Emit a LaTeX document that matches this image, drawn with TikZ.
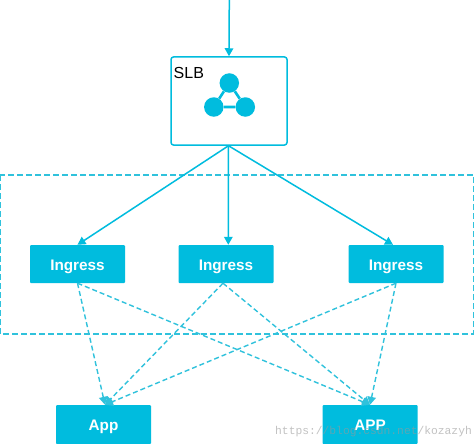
\documentclass[tikz,border=0pt]{standalone}
\usepackage{fontspec}
\setmainfont{Liberation Sans}
\setmonofont{Liberation Mono}
\usetikzlibrary{arrows.meta}
\definecolor{cy}{HTML}{00BCDE}
\definecolor{cyl}{HTML}{30C2DC}
\tikzset{
  x=1pt,y=-1pt,
  solidbox/.style={fill=cy,rounded corners=1pt,inner sep=0pt,minimum width=95pt,minimum height=38pt,text height=12pt,text depth=0pt,text=white,font=\fontsize{15.3}{15.3}\selectfont\bfseries},
  link/.style={draw=cy,line width=1.5pt,-{Triangle[length=8pt,width=8.5pt]}},
  dlink/.style={draw=cyl,line width=1.4pt,dash pattern=on 5pt off 3pt,-{Triangle[length=8pt,width=8.5pt]}},
  dot/.style={circle,fill=cy,minimum size=19.5pt,inner sep=0pt},
  wire/.style={draw=cy,line width=2.6pt}
}
\begin{document}
\begin{tikzpicture}
\useasboundingbox (0,0) rectangle (474,444);
\fill[white] (0,0) rectangle (474,444);
\draw[cyl,line width=1.1pt,dash pattern=on 6pt off 3pt] (0.4,175) rectangle (473.6,334);
\node[draw=cy,line width=1.5pt,rounded corners=2.5pt,minimum width=116pt,minimum height=88pt,inner sep=0pt] (slb) at (229,101) {};
\node[anchor=base west,inner sep=0pt,font=\fontsize{16}{16}\selectfont] (slbt) at (173.5,78.3) {SLB};
\node[dot] (d1) at (229.3,83) {};
\node[dot] (d2) at (213.8,107) {};
\node[dot] (d3) at (245.3,107) {};
\draw[wire] (d1) -- (d2) -- (d3) -- (d1);
\coordinate (top) at (229.3,0);
\node[solidbox] (i1) at (77.5,264) {Ingress};
\node[solidbox] (i2) at (226,264) {Ingress};
\node[solidbox] (i3) at (396,264) {Ingress};
\node[solidbox,minimum height=39pt] (a1) at (103.5,424.5) {App};
\node[solidbox,minimum height=39pt] (a2) at (370,424.5) {APP};
\draw[link] (top) -- (slb.north);
\coordinate (s) at ([xshift=-0.5pt]slb.south);
\draw[link] (s) -- (i1.north);
\draw[link] (s) -- ([xshift=2.3pt]i2.north);
\draw[link] (s) -- ([xshift=-3pt]i3.north);
\draw[dlink] (i1.south) -- ([xshift=1.5pt]a1.north);
\draw[dlink] (i1.south) -- (a2.north);
\draw[dlink] ([xshift=-3pt]i2.south) -- ([xshift=1.5pt]a1.north);
\draw[dlink] ([xshift=-3pt]i2.south) -- (a2.north);
\draw[dlink] (i3.south) -- ([xshift=1.5pt]a1.north);
\draw[dlink] (i3.south) -- (a2.north);
\node[anchor=base west,inner sep=0pt,text=black!40,font=\ttfamily\fontsize{11.3}{11.3}\selectfont,opacity=.6] (wm) at (275,434) {https://blog.csdn.net/kozazyh};
\end{tikzpicture}
\end{document}
